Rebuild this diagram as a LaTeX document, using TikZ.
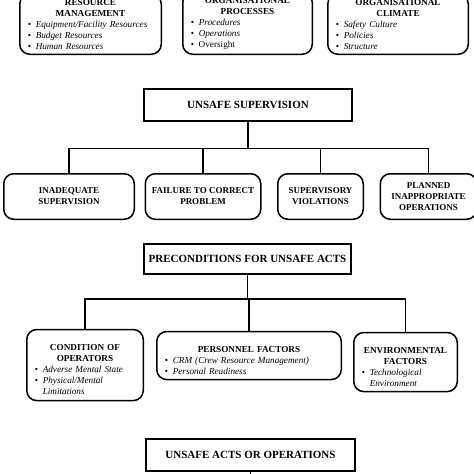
\documentclass[tikz,border=0pt]{standalone}
\usepackage{fontspec}
\setmainfont{Liberation Serif}
\usetikzlibrary{positioning}
\newcommand{\boxhead}[2][0pt]{{\centering\bfseries\rule{0pt}{#1}#2\par}}
\newcommand{\bitem}[2][\itshape]{{\hyphenpenalty=10000\noindent\hangindent=8pt\hangafter=1\makebox[8pt][l]{\textbullet}#1#2\par}}
\tikzset{
  header/.style={draw, line width=1.6pt, font=\fontsize{11}{13}\selectfont\bfseries},
  factor/.style={draw, line width=1.5pt, rounded corners=10pt, align=center,
    minimum height=45.5pt, font=\fontsize{9}{11}\selectfont\bfseries},
  listbox/.style={draw, line width=1.5pt, rounded corners=10pt, align=left,
    inner xsep=8pt, inner ysep=5pt, font=\fontsize{9.2}{11}\selectfont},
  branch/.style={line width=1.1pt},
}

\begin{document}
\begin{tikzpicture}[x=1pt, y=-1pt]
  \useasboundingbox (0,0) rectangle (474,474);
  \fill[white] (0,0) rectangle (474,474);
  \clip (0,0) rectangle (474,474);

  % organisational influences
  \node[listbox, text width=125.5pt, anchor=south] (resmgmt) at (90.5,55)
    {\boxhead{RESOURCE\par MANAGEMENT}\bitem{Equipment/Facility Resources}\bitem{Budget Resources}\bitem{Human Resources}};
  \node[listbox, text width=113.5pt, anchor=south] (orgproc) at (247.5,55)
    {\boxhead{ORGANISATIONAL\par PROCESSES}\bitem{Procedures}\bitem{Operations}\bitem[\upshape]{Oversight}};
  \node[listbox, text width=124.5pt, anchor=south] (orgclim) at (398,55)
    {\boxhead{ORGANISATIONAL\par CLIMATE}\bitem{Safety Culture}\bitem{Policies}\bitem{Structure}};

  % unsafe supervision
  \node[header, minimum width=208.4pt, minimum height=32.4pt] (sup) at (248,105) {UNSAFE SUPERVISION};
  \node[factor, minimum width=130.5pt] (inadeq) at (69,196.5) {INADEQUATE\\SUPERVISION};
  \node[factor, minimum width=115.5pt, right=9.5pt of inadeq] (failcorr) {FAILURE TO CORRECT\\PROBLEM};
  \node[factor, minimum width=85.5pt, right=15.5pt of failcorr] (supviol) {SUPERVISORY\\VIOLATIONS};
  \node[factor, minimum width=96.5pt, right=15.5pt of supviol] (planned) {PLANNED\\INAPPROPRIATE\\OPERATIONS};
  \draw[branch] (sup.south) -- +(0,26.5) -| (inadeq.north);
  \draw[branch] (sup.south) -- +(0,26.5) -| (failcorr.north);
  \draw[branch] (sup.south) -- +(0,26.5) -| (supviol.north);
  \draw[branch] (sup.south) -- +(0,26.5) -| (planned.north);

  % preconditions
  \node[header, minimum width=207.4pt, minimum height=30.4pt] (pre) at (247.5,259) {PRECONDITIONS FOR UNSAFE ACTS};
  \node[listbox, text width=100.5pt, anchor=north, inner ysep=6pt] (condop) at (85,328.75)
    {\boxhead[15pt]{CONDITION OF\par OPERATORS}\bitem{Adverse Mental State}\bitem{Physical/Mental Limitations}};
  \node[listbox, text width=168.5pt, anchor=north] (persfac) at (249,330.75)
    {\boxhead[16pt]{PERSONNEL FACTORS}\bitem{CRM (Crew Resource Management)}\bitem{Personal Readiness}};
  \node[listbox, text width=87.5pt, anchor=north] (envfac) at (405.5,331.75)
    {\boxhead[16pt]{ENVIRONMENTAL\par FACTORS}\bitem{Technological Environment}};
  \draw[branch] (pre.south) -- +(0,24) -| (condop.north);
  \draw[branch] (pre.south) -- +(0,24) -| (persfac.north);
  \draw[branch] (pre.south) -- +(0,24) -| (envfac.north);

  % unsafe acts
  \node[header, minimum width=209.4pt, minimum height=32.4pt] (acts) at (250.5,455) {UNSAFE ACTS OR OPERATIONS};
  \coordinate (actsend) at (250.5,480);
  \draw[branch] (acts.south) -- (actsend);
\end{tikzpicture}
\end{document}
